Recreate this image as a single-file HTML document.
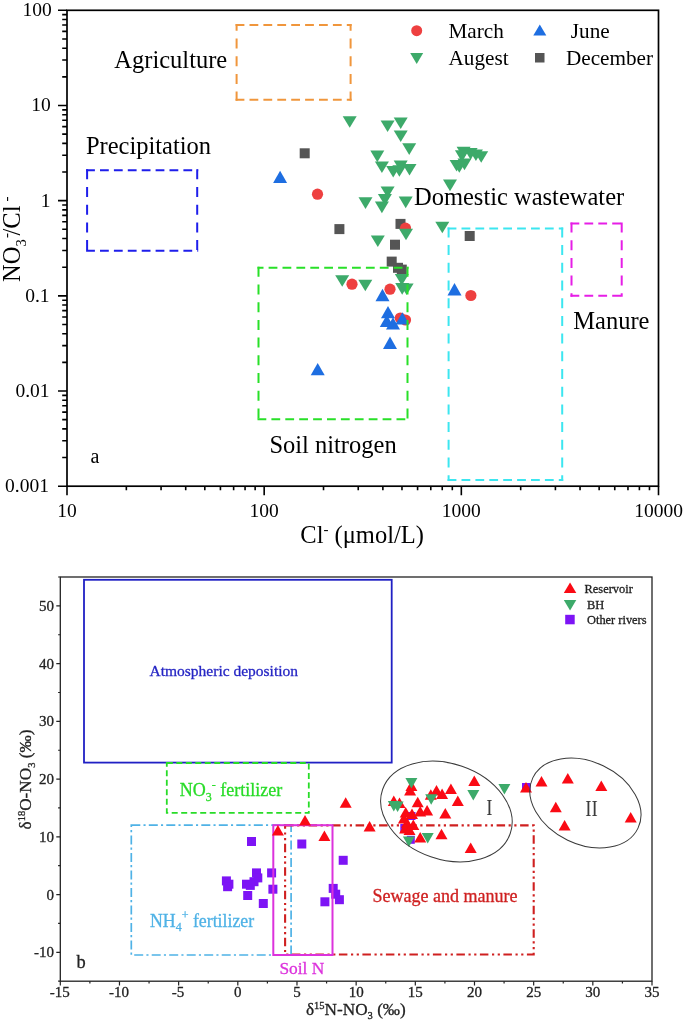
<!DOCTYPE html>
<html><head><meta charset="utf-8"><title>Nitrate source plots</title>
<style>
html,body{margin:0;padding:0;background:#fff}
svg{display:block}
svg text{font-family:"Liberation Serif", "DejaVu Serif", serif;}
</style></head><body>
<svg width="685" height="1022" viewBox="0 0 685 1022">
<rect width="685" height="1022" fill="#fff"/>
<rect x="67.0" y="10.3" width="591.5" height="475.9" fill="none" stroke="#000" stroke-width="1.7"/>
<path d="M67.0 486.20h-9 M67.0 457.55h-4.8 M67.0 440.79h-4.8 M67.0 428.90h-4.8 M67.0 419.67h-4.8 M67.0 412.14h-4.8 M67.0 405.76h-4.8 M67.0 400.24h-4.8 M67.0 395.38h-4.8 M67.0 391.02h-9 M67.0 362.37h-4.8 M67.0 345.61h-4.8 M67.0 333.72h-4.8 M67.0 324.49h-4.8 M67.0 316.96h-4.8 M67.0 310.58h-4.8 M67.0 305.06h-4.8 M67.0 300.20h-4.8 M67.0 295.84h-9 M67.0 267.19h-4.8 M67.0 250.43h-4.8 M67.0 238.54h-4.8 M67.0 229.31h-4.8 M67.0 221.78h-4.8 M67.0 215.40h-4.8 M67.0 209.88h-4.8 M67.0 205.02h-4.8 M67.0 200.66h-9 M67.0 172.01h-4.8 M67.0 155.25h-4.8 M67.0 143.36h-4.8 M67.0 134.13h-4.8 M67.0 126.60h-4.8 M67.0 120.22h-4.8 M67.0 114.70h-4.8 M67.0 109.84h-4.8 M67.0 105.48h-9 M67.0 76.83h-4.8 M67.0 60.07h-4.8 M67.0 48.18h-4.8 M67.0 38.95h-4.8 M67.0 31.42h-4.8 M67.0 25.04h-4.8 M67.0 19.52h-4.8 M67.0 14.66h-4.8 M67.0 10.30h-9 M67.0 10.3h-9" stroke="#000" stroke-width="1.6" fill="none"/>
<path d="M67.00 486.2v9 M126.35 486.2v4 M161.07 486.2v4 M185.71 486.2v4 M204.81 486.2v4 M220.43 486.2v4 M233.63 486.2v4 M245.06 486.2v4 M255.14 486.2v4 M264.17 486.2v9 M323.52 486.2v4 M358.24 486.2v4 M382.87 486.2v4 M401.98 486.2v4 M417.59 486.2v4 M430.79 486.2v4 M442.23 486.2v4 M452.31 486.2v4 M461.33 486.2v9 M520.69 486.2v4 M555.41 486.2v4 M580.04 486.2v4 M599.15 486.2v4 M614.76 486.2v4 M627.96 486.2v4 M639.39 486.2v4 M649.48 486.2v4 M658.50 486.2v9" stroke="#000" stroke-width="1.6" fill="none"/>
<text x="51.8" y="16.1" text-anchor="end" font-size="19.5">100</text>
<text x="50.8" y="111.3" text-anchor="end" font-size="19.5">10</text>
<text x="50.4" y="206.5" text-anchor="end" font-size="19.5">1</text>
<text x="49.6" y="301.6" text-anchor="end" font-size="19.5">0.1</text>
<text x="49.6" y="396.8" text-anchor="end" font-size="19.5">0.01</text>
<text x="48.9" y="492.0" text-anchor="end" font-size="19.5">0.001</text>
<text x="67.0" y="516.8" text-anchor="middle" font-size="19.5">10</text>
<text x="264.2" y="516.8" text-anchor="middle" font-size="19.5">100</text>
<text x="461.3" y="516.8" text-anchor="middle" font-size="19.5">1000</text>
<text x="658.5" y="516.8" text-anchor="middle" font-size="19.5">10000</text>
<text x="300.3" y="543" font-size="24.5">Cl<tspan dy="-9" font-size="15">-</tspan><tspan dy="9"> (μmol/L)</tspan></text>
<g transform="translate(20.4 282) rotate(-90)"><text x="0" y="0" font-size="24.5">NO</text><text x="35.5" y="5.5" font-size="14.5">3</text><text x="44" y="-9" font-size="15">-</text><text x="46.5" y="0" font-size="24.5">/Cl</text><text x="80.5" y="-9" font-size="15">-</text></g>
<text x="114.3" y="67.6" font-size="24.5" fill="#000" text-anchor="start">Agriculture</text>
<text x="85.9" y="153.9" font-size="24.5" fill="#000" text-anchor="start">Precipitation</text>
<text x="414" y="205.4" font-size="24.5" fill="#000" text-anchor="start">Domestic wastewater</text>
<text x="573.3" y="329.2" font-size="24.5" fill="#000" text-anchor="start">Manure</text>
<text x="269.4" y="453.4" font-size="24.5" fill="#000" text-anchor="start">Soil nitrogen</text>
<text x="90.5" y="463.2" font-size="20" fill="#000" text-anchor="start">a</text>
<rect x="299.7" y="148.3" width="10" height="10" fill="#555555"/>
<rect x="334.4" y="224.1" width="10" height="10" fill="#555555"/>
<rect x="395.5" y="218.9" width="10" height="10" fill="#555555"/>
<rect x="390.0" y="239.7" width="10" height="10" fill="#555555"/>
<rect x="386.7" y="256.6" width="10" height="10" fill="#555555"/>
<rect x="393.0" y="262.8" width="10" height="10" fill="#555555"/>
<rect x="396.8" y="264.6" width="10" height="10" fill="#555555"/>
<rect x="464.7" y="231.0" width="10" height="10" fill="#555555"/>
<circle cx="317.5" cy="194.2" r="5.6" fill="#EE4040"/>
<circle cx="405.5" cy="228.1" r="5.6" fill="#EE4040"/>
<circle cx="352.0" cy="284.2" r="5.6" fill="#EE4040"/>
<circle cx="390.0" cy="289.2" r="5.6" fill="#EE4040"/>
<circle cx="470.9" cy="295.5" r="5.6" fill="#EE4040"/>
<circle cx="400.3" cy="318.0" r="5.6" fill="#EE4040"/>
<circle cx="405.5" cy="320.0" r="5.6" fill="#EE4040"/>
<path d="M342.7 116.2h14l-7.0 11.6z" fill="#3DAA6A"/>
<path d="M380.6 120.4h14l-7.0 11.6z" fill="#3DAA6A"/>
<path d="M393.7 117.4h14l-7.0 11.6z" fill="#3DAA6A"/>
<path d="M393.7 130.5h14l-7.0 11.6z" fill="#3DAA6A"/>
<path d="M402.2 143.3h14l-7.0 11.6z" fill="#3DAA6A"/>
<path d="M370.3 150.6h14l-7.0 11.6z" fill="#3DAA6A"/>
<path d="M374.9 161.4h14l-7.0 11.6z" fill="#3DAA6A"/>
<path d="M386.2 165.9h14l-7.0 11.6z" fill="#3DAA6A"/>
<path d="M393.7 160.6h14l-7.0 11.6z" fill="#3DAA6A"/>
<path d="M392.4 165.2h14l-7.0 11.6z" fill="#3DAA6A"/>
<path d="M402.5 163.9h14l-7.0 11.6z" fill="#3DAA6A"/>
<path d="M380.6 186.5h14l-7.0 11.6z" fill="#3DAA6A"/>
<path d="M377.9 194.0h14l-7.0 11.6z" fill="#3DAA6A"/>
<path d="M358.5 197.3h14l-7.0 11.6z" fill="#3DAA6A"/>
<path d="M374.9 201.6h14l-7.0 11.6z" fill="#3DAA6A"/>
<path d="M398.7 196.6h14l-7.0 11.6z" fill="#3DAA6A"/>
<path d="M443.0 179.6h14l-7.0 11.6z" fill="#3DAA6A"/>
<path d="M435.3 221.7h14l-7.0 11.6z" fill="#3DAA6A"/>
<path d="M399.0 228.7h14l-7.0 11.6z" fill="#3DAA6A"/>
<path d="M370.8 235.5h14l-7.0 11.6z" fill="#3DAA6A"/>
<path d="M335.2 275.2h14l-7.0 11.6z" fill="#3DAA6A"/>
<path d="M358.3 279.7h14l-7.0 11.6z" fill="#3DAA6A"/>
<path d="M394.8 273.9h14l-7.0 11.6z" fill="#3DAA6A"/>
<path d="M395.2 283.1h14l-7.0 11.6z" fill="#3DAA6A"/>
<path d="M399.6 283.4h14l-7.0 11.6z" fill="#3DAA6A"/>
<path d="M456.6 146.8h14l-7.0 11.6z" fill="#3DAA6A"/>
<path d="M463.6 148.1h14l-7.0 11.6z" fill="#3DAA6A"/>
<path d="M468.9 149.4h14l-7.0 11.6z" fill="#3DAA6A"/>
<path d="M474.2 151.2h14l-7.0 11.6z" fill="#3DAA6A"/>
<path d="M454.9 150.3h14l-7.0 11.6z" fill="#3DAA6A"/>
<path d="M449.6 159.9h14l-7.0 11.6z" fill="#3DAA6A"/>
<path d="M457.5 158.6h14l-7.0 11.6z" fill="#3DAA6A"/>
<path d="M452.3 161.2h14l-7.0 11.6z" fill="#3DAA6A"/>
<path d="M273.1 183.1h14l-7.0 -12.4z" fill="#1E6EE1"/>
<path d="M375.5 301.2h14l-7.0 -12.4z" fill="#1E6EE1"/>
<path d="M447.5 295.4h14l-7.0 -12.4z" fill="#1E6EE1"/>
<path d="M381.0 318.3h14l-7.0 -12.4z" fill="#1E6EE1"/>
<path d="M379.8 327.1h14l-7.0 -12.4z" fill="#1E6EE1"/>
<path d="M386.0 329.6h14l-7.0 -12.4z" fill="#1E6EE1"/>
<path d="M395.4 324.6h14l-7.0 -12.4z" fill="#1E6EE1"/>
<path d="M383.0 349.0h14l-7.0 -12.4z" fill="#1E6EE1"/>
<path d="M310.7 375.3h14l-7.0 -12.4z" fill="#1E6EE1"/>
<g fill="none" stroke="#F0963C" stroke-width="2.0"><path d="M235.6 25.1H351.6" stroke-dasharray="8.8 5.1" stroke-dashoffset="0"/><path d="M350.6 24.1V100.8" stroke-dasharray="10 7.7" stroke-dashoffset="3.3"/><path d="M235.6 99.8H351.6" stroke-dasharray="8.8 5.1" stroke-dashoffset="0"/><path d="M236.6 24.1V100.8" stroke-dasharray="10 7.7" stroke-dashoffset="3.3"/></g>
<g fill="none" stroke="#1E1EEB" stroke-width="2.0"><path d="M86.1 170.3H198.2" stroke-dasharray="8.8 5.1" stroke-dashoffset="0"/><path d="M197.2 169.3V251.7" stroke-dasharray="10 7.7" stroke-dashoffset="0"/><path d="M86.1 250.7H198.2" stroke-dasharray="8.8 5.1" stroke-dashoffset="0"/><path d="M87.1 169.3V251.7" stroke-dasharray="10 7.7" stroke-dashoffset="0"/></g>
<g fill="none" stroke="#28E028" stroke-width="2.0"><path d="M257.5 267.8H408.5" stroke-dasharray="8.8 5.1" stroke-dashoffset="2.8"/><path d="M407.5 266.8V420.2" stroke-dasharray="10 7.7" stroke-dashoffset="0"/><path d="M257.5 419.2H408.5" stroke-dasharray="8.8 5.1" stroke-dashoffset="0"/><path d="M258.5 266.8V420.2" stroke-dasharray="10 7.7" stroke-dashoffset="0"/></g>
<g fill="none" stroke="#3CE6F0" stroke-width="2.0"><path d="M447.6 228.4H563.2" stroke-dasharray="8.8 5.1" stroke-dashoffset="0"/><path d="M562.2 227.4V481.0" stroke-dasharray="10 7.7" stroke-dashoffset="0"/><path d="M447.6 480H563.2" stroke-dasharray="8.8 5.1" stroke-dashoffset="0"/><path d="M448.6 227.4V481.0" stroke-dasharray="10 7.7" stroke-dashoffset="0"/></g>
<g fill="none" stroke="#E61EE6" stroke-width="2.0"><path d="M570.5 223.5H622.7" stroke-dasharray="8.8 5.1" stroke-dashoffset="0"/><path d="M621.7 222.5V296.7" stroke-dasharray="10 7.7" stroke-dashoffset="0"/><path d="M570.5 295.7H622.7" stroke-dasharray="8.8 5.1" stroke-dashoffset="0"/><path d="M571.5 222.5V296.7" stroke-dasharray="10 7.7" stroke-dashoffset="0"/></g>
<circle cx="416.7" cy="30.7" r="5.5" fill="#EE4040"/>
<text x="448.5" y="37.8" font-size="21.2" fill="#000" text-anchor="start">March</text>
<path d="M533.3 35.4h13l-6.5 -11z" fill="#1E6EE1"/>
<text x="570.8" y="37.8" font-size="21.2" fill="#000" text-anchor="start">June</text>
<path d="M410.2 53.0h13l-6.5 11z" fill="#3DAA6A"/>
<text x="448.5" y="64.8" font-size="21.2" fill="#000" text-anchor="start">Augest</text>
<rect x="535.0" y="53.0" width="9.5" height="9.5" fill="#555555"/>
<text x="566" y="64.8" font-size="21.2" fill="#000" text-anchor="start">December</text>
<g class="pb">
<rect x="60.3" y="577.0" width="591.7" height="404.2" fill="none" stroke="#222222" stroke-width="1.3"/>
<path d="M60.3 981.20h-2.2 M60.3 952.33h-4 M60.3 923.46h-2.2 M60.3 894.59h-4 M60.3 865.71h-2.2 M60.3 836.84h-4 M60.3 807.97h-2.2 M60.3 779.10h-4 M60.3 750.23h-2.2 M60.3 721.36h-4 M60.3 692.49h-2.2 M60.3 663.61h-4 M60.3 634.74h-2.2 M60.3 605.87h-4 M60.3 577.00h-2.2 M60.30 981.2v4.2 M119.47 981.2v4.2 M178.64 981.2v4.2 M237.81 981.2v4.2 M296.98 981.2v4.2 M356.15 981.2v4.2 M415.32 981.2v4.2 M474.49 981.2v4.2 M533.66 981.2v4.2 M592.83 981.2v4.2 M652.00 981.2v4.2 M89.89 981.2v2.4 M149.06 981.2v2.4 M208.23 981.2v2.4 M267.40 981.2v2.4 M326.57 981.2v2.4 M385.74 981.2v2.4 M444.91 981.2v2.4 M504.08 981.2v2.4 M563.25 981.2v2.4 M622.42 981.2v2.4" stroke="#222222" stroke-width="1.2" fill="none"/>
<text x="54" y="957.3" text-anchor="end" font-size="15" fill="#222222" stroke="#222222" stroke-width="0.3">-10</text>
<text x="54" y="899.6" text-anchor="end" font-size="15" fill="#222222" stroke="#222222" stroke-width="0.3">0</text>
<text x="54" y="841.8" text-anchor="end" font-size="15" fill="#222222" stroke="#222222" stroke-width="0.3">10</text>
<text x="54" y="784.1" text-anchor="end" font-size="15" fill="#222222" stroke="#222222" stroke-width="0.3">20</text>
<text x="54" y="726.4" text-anchor="end" font-size="15" fill="#222222" stroke="#222222" stroke-width="0.3">30</text>
<text x="54" y="668.6" text-anchor="end" font-size="15" fill="#222222" stroke="#222222" stroke-width="0.3">40</text>
<text x="54" y="610.9" text-anchor="end" font-size="15" fill="#222222" stroke="#222222" stroke-width="0.3">50</text>
<text x="59.8" y="997.2" text-anchor="middle" font-size="15" fill="#222222" stroke="#222222" stroke-width="0.3">-15</text>
<text x="119.0" y="997.2" text-anchor="middle" font-size="15" fill="#222222" stroke="#222222" stroke-width="0.3">-10</text>
<text x="178.1" y="997.2" text-anchor="middle" font-size="15" fill="#222222" stroke="#222222" stroke-width="0.3">-5</text>
<text x="237.8" y="997.2" text-anchor="middle" font-size="15" fill="#222222" stroke="#222222" stroke-width="0.3">0</text>
<text x="297.0" y="997.2" text-anchor="middle" font-size="15" fill="#222222" stroke="#222222" stroke-width="0.3">5</text>
<text x="356.2" y="997.2" text-anchor="middle" font-size="15" fill="#222222" stroke="#222222" stroke-width="0.3">10</text>
<text x="415.3" y="997.2" text-anchor="middle" font-size="15" fill="#222222" stroke="#222222" stroke-width="0.3">15</text>
<text x="474.5" y="997.2" text-anchor="middle" font-size="15" fill="#222222" stroke="#222222" stroke-width="0.3">20</text>
<text x="533.7" y="997.2" text-anchor="middle" font-size="15" fill="#222222" stroke="#222222" stroke-width="0.3">25</text>
<text x="592.8" y="997.2" text-anchor="middle" font-size="15" fill="#222222" stroke="#222222" stroke-width="0.3">30</text>
<text x="652.0" y="997.2" text-anchor="middle" font-size="15" fill="#222222" stroke="#222222" stroke-width="0.3">35</text>
<text x="306" y="1015.3" font-size="17.2" fill="#222222" stroke="#222222" stroke-width="0.3">δ<tspan dy="-6.7" font-size="10.5">15</tspan><tspan dy="6.7">N-NO</tspan><tspan dy="3.8" font-size="10.5">3</tspan><tspan dy="-3.8"> (‰)</tspan></text>
<text transform="translate(31.3 829.4) rotate(-90)" font-size="17.2" fill="#222222" stroke="#222222" stroke-width="0.3">δ<tspan dy="-6.7" font-size="10.5">18</tspan><tspan dy="6.7">O-NO</tspan><tspan dy="3.8" font-size="10.5">3</tspan><tspan dy="-3.8"> (‰)</tspan></text>
<rect x="84.0" y="579.8" width="307.7" height="182.8" fill="none" stroke="#2020C4" stroke-width="1.8"/>
<rect x="166.8" y="763" width="142.0" height="49.9" fill="none" stroke="#28DC28" stroke-width="1.8" stroke-dasharray="6 3.5"/>
<rect x="131.3" y="825.2" width="159.8" height="129.8" fill="none" stroke="#4FB2E6" stroke-width="1.7" stroke-dasharray="9 3.2 2.1 3.2"/>
<rect x="285.1" y="825.4" width="248.6" height="129.1" fill="none" stroke="#CF2020" stroke-width="2.1" stroke-dasharray="8.5 3.5 2.2 3.5 2.2 3.6"/>
<text x="149.5" y="675.9" font-size="15.5" fill="#2626C4" stroke="#2626C4" stroke-width="0.3" text-anchor="start">Atmospheric deposition</text>
<text x="179.8" y="796.4" font-size="18" fill="#28DC28" stroke="#28DC28" stroke-width="0.3">NO<tspan dy="4.5" font-size="12">3</tspan><tspan dy="-12" font-size="12">-</tspan><tspan dy="7.5"> fertilizer</tspan></text>
<text x="150" y="927.2" font-size="17.8" fill="#4FB2E6" stroke="#4FB2E6" stroke-width="0.3">NH<tspan dy="4" font-size="12">4</tspan><tspan dy="-12" font-size="12">+</tspan><tspan dy="8"> fertilizer</tspan></text>
<text x="372.5" y="901.8" font-size="18" fill="#CF2020" stroke="#CF2020" stroke-width="0.3" text-anchor="start">Sewage and manure</text>
<text x="279.4" y="973.5" font-size="17.4" fill="#DC32DC" stroke="#DC32DC" stroke-width="0.3" text-anchor="start">Soil N</text>
<text x="76.6" y="968" font-size="18.4" fill="#222" stroke="#222" stroke-width="0.3" text-anchor="start">b</text>
<rect x="247.0" y="837.0" width="9" height="9" fill="#7D14F5"/>
<rect x="297.3" y="839.5" width="9" height="9" fill="#7D14F5"/>
<rect x="338.7" y="855.8" width="9" height="9" fill="#7D14F5"/>
<rect x="267.1" y="868.4" width="9" height="9" fill="#7D14F5"/>
<rect x="252.0" y="868.4" width="9" height="9" fill="#7D14F5"/>
<rect x="253.3" y="873.4" width="9" height="9" fill="#7D14F5"/>
<rect x="249.5" y="877.2" width="9" height="9" fill="#7D14F5"/>
<rect x="242.0" y="879.7" width="9" height="9" fill="#7D14F5"/>
<rect x="245.8" y="880.9" width="9" height="9" fill="#7D14F5"/>
<rect x="221.9" y="876.4" width="9" height="9" fill="#7D14F5"/>
<rect x="224.4" y="879.7" width="9" height="9" fill="#7D14F5"/>
<rect x="223.1" y="882.2" width="9" height="9" fill="#7D14F5"/>
<rect x="268.4" y="884.7" width="9" height="9" fill="#7D14F5"/>
<rect x="243.2" y="891.0" width="9" height="9" fill="#7D14F5"/>
<rect x="258.8" y="899.0" width="9" height="9" fill="#7D14F5"/>
<rect x="328.7" y="883.9" width="9" height="9" fill="#7D14F5"/>
<rect x="320.4" y="897.3" width="9" height="9" fill="#7D14F5"/>
<rect x="334.9" y="895.2" width="9" height="9" fill="#7D14F5"/>
<rect x="331.2" y="889.7" width="9" height="9" fill="#7D14F5"/>
<rect x="522.0" y="783.0" width="8.5" height="8.5" fill="#7D14F5"/>
<rect x="407.5" y="812.0" width="8" height="8" fill="#7D14F5"/>
<rect x="400.3" y="824.0" width="8" height="8" fill="#7D14F5"/>
<rect x="406.8" y="835.8" width="8" height="8" fill="#7D14F5"/>
<rect x="273.3" y="825.2" width="59.2" height="129.8" fill="none" stroke="#DC32DC" stroke-width="2"/>
<path d="M339.7 807.8h12l-6.0 -10.5z" fill="#FA0A14"/>
<path d="M299.0 825.4h12l-6.0 -10.5z" fill="#FA0A14"/>
<path d="M271.9 835.5h12l-6.0 -10.5z" fill="#FA0A14"/>
<path d="M318.4 841.0h12l-6.0 -10.5z" fill="#FA0A14"/>
<path d="M363.6 831.6h12l-6.0 -10.5z" fill="#FA0A14"/>
<path d="M468.3 785.9h12l-6.0 -10.5z" fill="#FA0A14"/>
<path d="M405.4 791.0h12l-6.0 -10.5z" fill="#FA0A14"/>
<path d="M404.1 795.4h12l-6.0 -10.5z" fill="#FA0A14"/>
<path d="M430.5 795.4h12l-6.0 -10.5z" fill="#FA0A14"/>
<path d="M444.9 794.0h12l-6.0 -10.5z" fill="#FA0A14"/>
<path d="M424.8 799.8h12l-6.0 -10.5z" fill="#FA0A14"/>
<path d="M436.1 799.1h12l-6.0 -10.5z" fill="#FA0A14"/>
<path d="M451.8 806.0h12l-6.0 -10.5z" fill="#FA0A14"/>
<path d="M387.8 806.0h12l-6.0 -10.5z" fill="#FA0A14"/>
<path d="M393.5 807.9h12l-6.0 -10.5z" fill="#FA0A14"/>
<path d="M411.7 807.2h12l-6.0 -10.5z" fill="#FA0A14"/>
<path d="M421.1 815.5h12l-6.0 -10.5z" fill="#FA0A14"/>
<path d="M414.2 816.6h12l-6.0 -10.5z" fill="#FA0A14"/>
<path d="M439.3 818.5h12l-6.0 -10.5z" fill="#FA0A14"/>
<path d="M399.7 817.4h12l-6.0 -10.5z" fill="#FA0A14"/>
<path d="M406.0 819.1h12l-6.0 -10.5z" fill="#FA0A14"/>
<path d="M397.9 823.5h12l-6.0 -10.5z" fill="#FA0A14"/>
<path d="M401.0 828.0h12l-6.0 -10.5z" fill="#FA0A14"/>
<path d="M407.3 829.9h12l-6.0 -10.5z" fill="#FA0A14"/>
<path d="M399.1 833.6h12l-6.0 -10.5z" fill="#FA0A14"/>
<path d="M403.5 834.9h12l-6.0 -10.5z" fill="#FA0A14"/>
<path d="M414.2 842.5h12l-6.0 -10.5z" fill="#FA0A14"/>
<path d="M435.5 839.2h12l-6.0 -10.5z" fill="#FA0A14"/>
<path d="M464.7 853.1h12l-6.0 -10.5z" fill="#FA0A14"/>
<path d="M520.0 792.4h12l-6.0 -10.5z" fill="#FA0A14"/>
<path d="M535.5 786.6h12l-6.0 -10.5z" fill="#FA0A14"/>
<path d="M561.8 783.6h12l-6.0 -10.5z" fill="#FA0A14"/>
<path d="M595.3 791.1h12l-6.0 -10.5z" fill="#FA0A14"/>
<path d="M549.8 812.2h12l-6.0 -10.5z" fill="#FA0A14"/>
<path d="M558.6 830.6h12l-6.0 -10.5z" fill="#FA0A14"/>
<path d="M624.7 822.5h12l-6.0 -10.5z" fill="#FA0A14"/>
<path d="M405.4 778.0h12l-6.0 10.5z" fill="#3DAA6A"/>
<path d="M425.2 794.2h12l-6.0 10.5z" fill="#3DAA6A"/>
<path d="M467.3 790.0h12l-6.0 10.5z" fill="#3DAA6A"/>
<path d="M498.4 784.1h12l-6.0 10.5z" fill="#3DAA6A"/>
<path d="M387.8 801.1h12l-6.0 10.5z" fill="#3DAA6A"/>
<path d="M391.6 801.5h12l-6.0 10.5z" fill="#3DAA6A"/>
<path d="M421.7 833.1h12l-6.0 10.5z" fill="#3DAA6A"/>
<path d="M402.9 836.4h12l-6.0 10.5z" fill="#3DAA6A"/>
<ellipse cx="446.4" cy="811.5" rx="67.5" ry="47.8" transform="rotate(19 446.4 811.5)" fill="none" stroke="#3a3a3a" stroke-width="1"/>
<ellipse cx="585.4" cy="803" rx="58.3" ry="41.2" transform="rotate(25.5 585.4 803)" fill="none" stroke="#3a3a3a" stroke-width="1"/>
<text transform="translate(489.3 815.2) scale(0.8 1)" font-size="23.6" fill="#3c3c3c" text-anchor="middle" class="ns">I</text>
<text transform="translate(591.5 816) scale(0.8 1)" font-size="23.6" fill="#3c3c3c" text-anchor="middle" class="ns">II</text>
<path d="M563.8 592.9h12.5l-6.25 -10.5z" fill="#FA0A14"/>
<text x="584.6" y="592.6" font-size="12.4" fill="#222" stroke="#222" stroke-width="0.3" text-anchor="start">Reservoir</text>
<path d="M563.8 600.0h12.5l-6.25 10.5z" fill="#3DAA6A"/>
<text x="587" y="608.5" font-size="12.4" fill="#222" stroke="#222" stroke-width="0.3" text-anchor="start">BH</text>
<rect x="565.2" y="614.8" width="9.5" height="9.5" fill="#7D14F5"/>
<text x="587" y="624" font-size="12.4" fill="#222" stroke="#222" stroke-width="0.3" text-anchor="start">Other rivers</text>
</g>
</svg>
</body></html>
